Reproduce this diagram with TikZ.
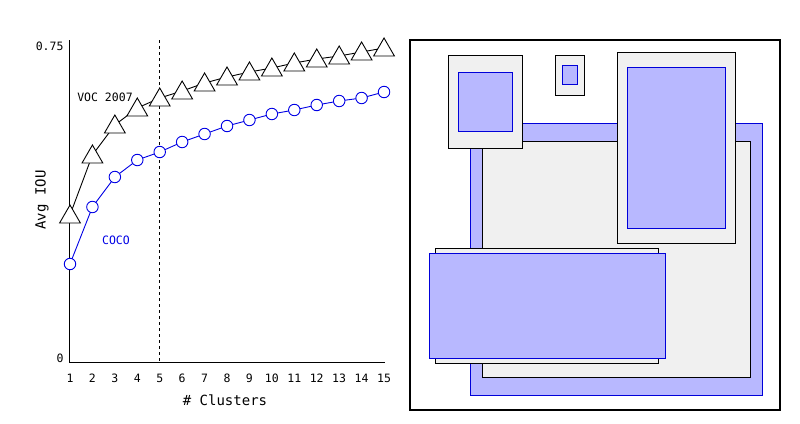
\documentclass[tikz,border=0pt]{standalone}
\usepackage{fontspec}
\setmonofont{DejaVu Sans Mono}
\usetikzlibrary{shapes.geometric}
\begin{document}
\begin{tikzpicture}[x=1pt,y=-1pt,font=\ttfamily\fontsize{11.5}{13}\selectfont,
  tri/.style={regular polygon,regular polygon sides=3,draw=black,fill=white,line width=0.9pt,minimum size=24pt,inner sep=0pt},
  circ/.style={circle,draw=blue!90!black,fill=white,line width=0.9pt,minimum size=11.5pt,inner sep=0pt},
  bbox/.style={draw=blue!85!black,fill=blue!28,line width=0.8pt},
  gbox/.style={draw=black,fill=black!6,line width=0.8pt}]
\useasboundingbox (0,0) rectangle (800,423);
% axes
\draw[line width=0.8pt] (69,40) -- (69,362) -- (385,362);
\draw[dashed] (159,40) -- (159,362);
\node[anchor=east] (ytop) at (67,46) {0.75};
\node[anchor=east] (ybot) at (67,358) {0};
\foreach \k in {1,...,15} \node (xt\k) at ({70+(\k-1)*22.43},378) {\k};
\node[rotate=90,font=\ttfamily\fontsize{14}{16}\selectfont] (ylab) at (42,200) {Avg IOU};
\node[font=\ttfamily\fontsize{14}{16}\selectfont] (xlab) at (225,400) {\# Clusters};
\def\voc{215,155,125,108,98,91,83,77,72,68,63,59,56,52,48}
\def\coco{264,207,177,160,152,142,134,126,120,114,110,105,101,98,92}
\foreach \y [count=\k] in \voc \coordinate (v\k) at ({70+(\k-1)*22.43},\y);
\foreach \y [count=\k] in \coco \coordinate (c\k) at ({70+(\k-1)*22.43},\y);
\draw[line width=0.9pt] (v1) \foreach \k in {2,...,15}{ -- (v\k)};
\draw[line width=0.9pt,blue!90!black] (c1) \foreach \k in {2,...,15}{ -- (c\k)};
\foreach \k in {1,...,15} \node[tri] (tv\k) at ([yshift=-2pt]v\k) {};
\foreach \k in {1,...,15} \node[circ] (cc\k) at (c\k) {};
\node (voclab) at (105,97) {VOC 2007};
\node[text=blue!90!black] (cocolab) at (116,240) {COCO};
% right panel
\draw[line width=1.6pt] (410,40) rectangle (780,410);
\draw[bbox] (470,123) rectangle (762,395);
\draw[gbox] (482,141) rectangle (750,377);
\draw[gbox] (448,55) rectangle (522,148);
\draw[bbox] (458,72) rectangle (512,131);
\draw[gbox] (555,55) rectangle (584,95);
\draw[bbox] (562,65) rectangle (577,84);
\draw[gbox] (617,52) rectangle (735,243);
\draw[bbox] (627,67) rectangle (725,228);
\draw[gbox] (435,248) rectangle (658,363);
\draw[bbox] (429,253) rectangle (665,358);
\end{tikzpicture}
\end{document}
